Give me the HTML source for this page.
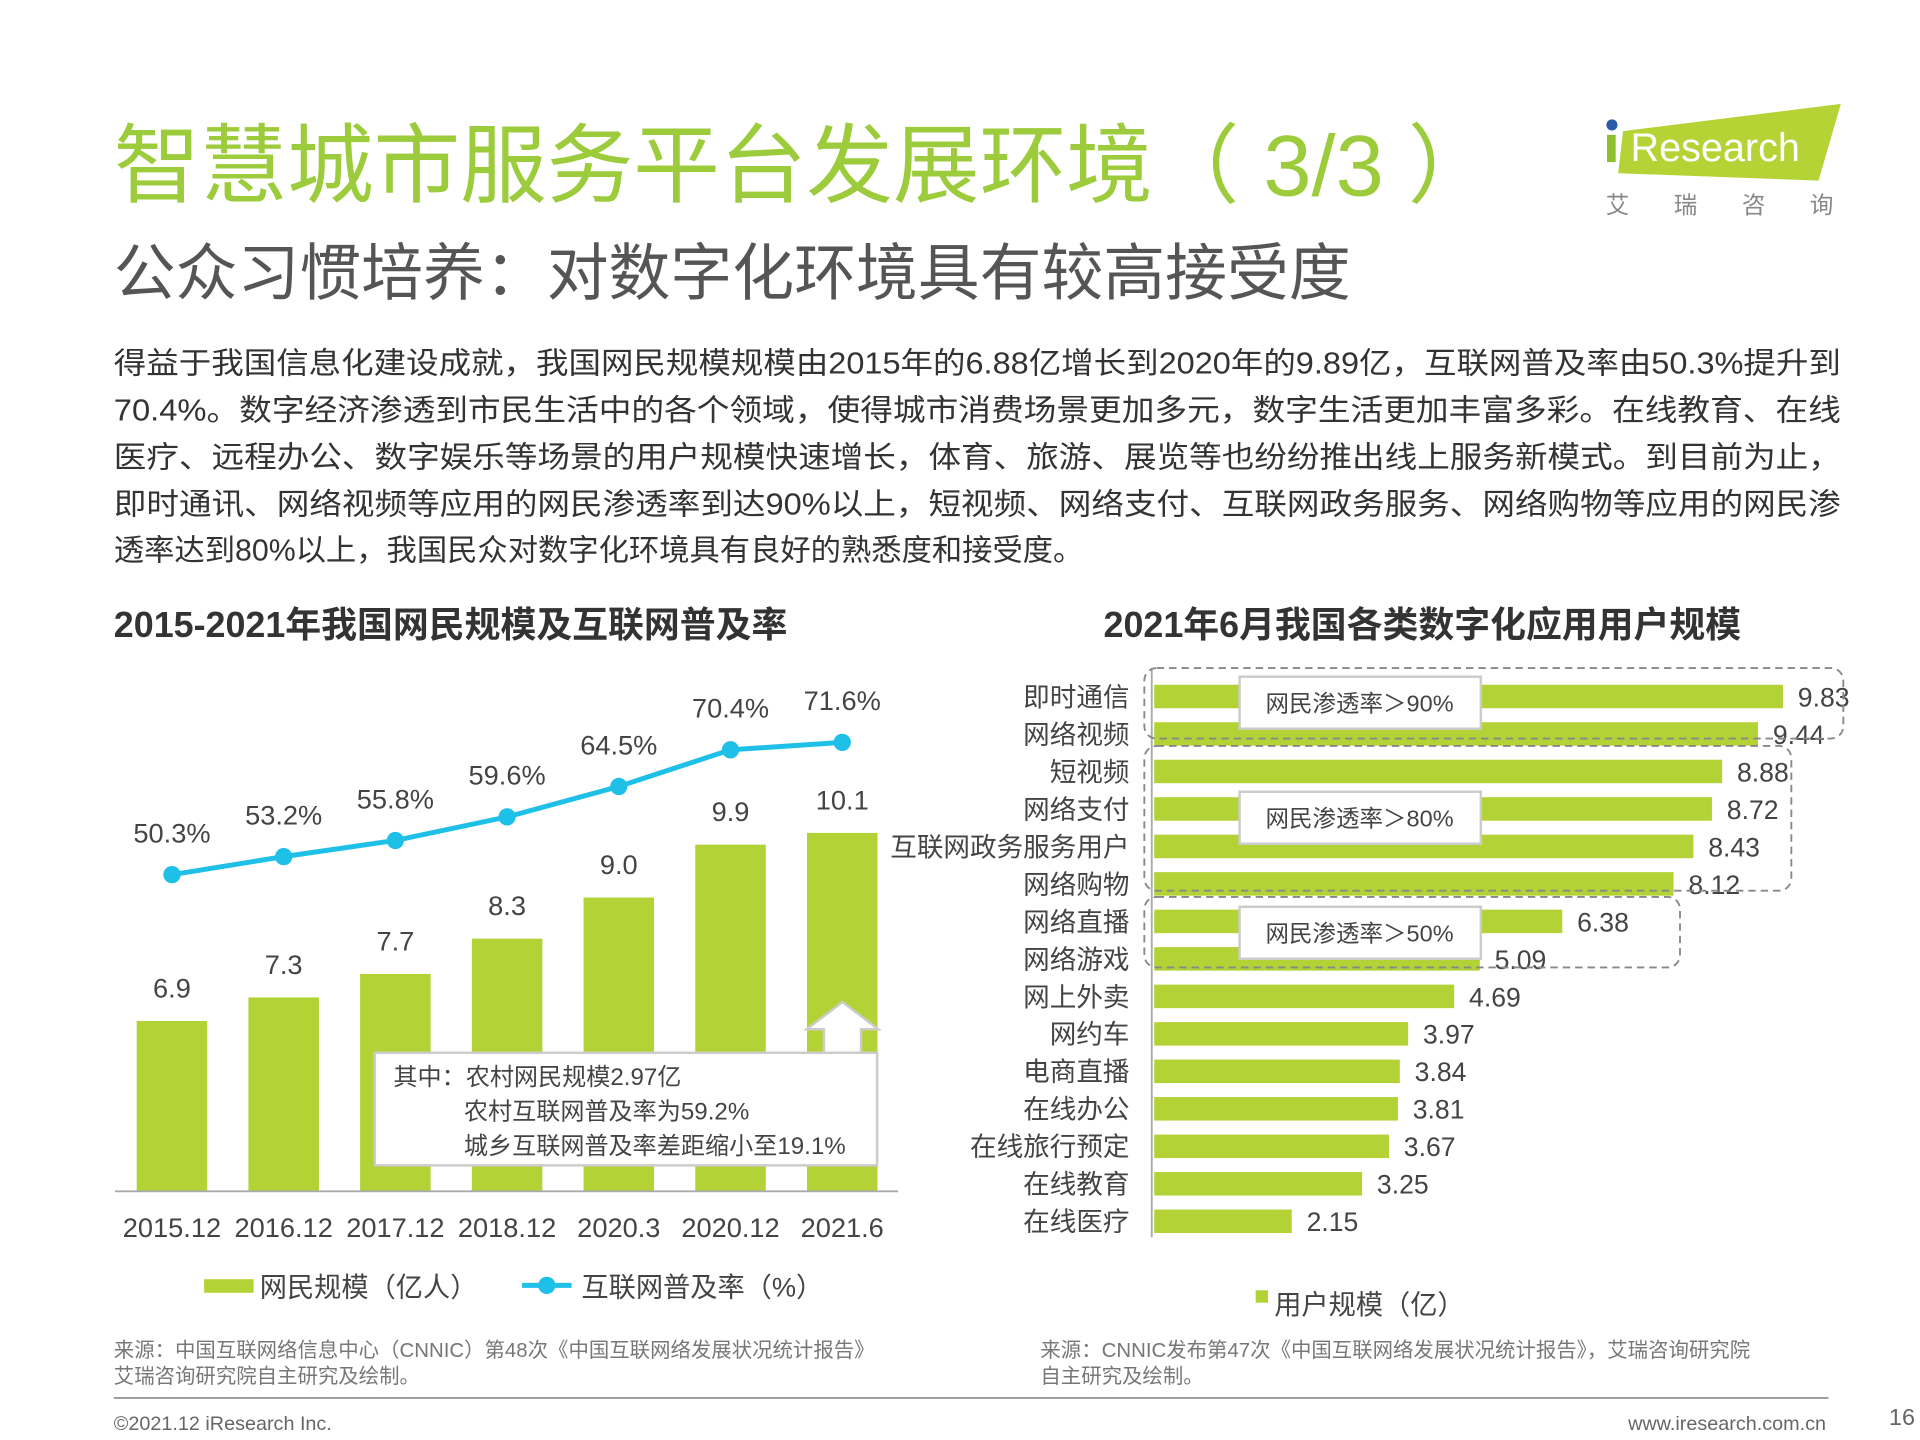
<!DOCTYPE html>
<html><head><meta charset="utf-8"><style>
html,body{margin:0;padding:0;background:#fff;}
svg{display:block;font-family:"Liberation Sans","Noto Sans CJK SC",sans-serif;}
</style></head><body>
<svg id="s" width="1920" height="1440" viewBox="0 0 1552 1164" xmlns="http://www.w3.org/2000/svg">
<text x="92" y="158" font-size="70" fill="#9ccb3b">智慧城市服务平台发展环境（ 3/3 ）</text>
<text x="92" y="238" font-size="50" fill="#555">公众习惯培养：对数字化环境具有较高接受度</text>
<g>
<polygon points="1312,106 1488,84 1470,146 1308,140" fill="#b5d334"/>
<rect x="1299" y="109" width="7" height="22" fill="#8dbf2f"/>
<circle cx="1303" cy="101" r="4.5" fill="#2a5caa"/>
<text x="1318" y="130" font-size="32" fill="#fff">Research</text>
<text x="1298" y="172" font-size="19" fill="#888" letter-spacing="36">艾瑞咨询</text>
</g>
<g font-size="24.5" fill="#333">
<text x="92" y="302" textLength="1396" lengthAdjust="spacingAndGlyphs">得益于我国信息化建设成就，我国网民规模规模由2015年的6.88亿增长到2020年的9.89亿，互联网普及率由50.3%提升到</text>
<text x="92" y="340" textLength="1396" lengthAdjust="spacingAndGlyphs">70.4%。数字经济渗透到市民生活中的各个领域，使得城市消费场景更加多元，数字生活更加丰富多彩。在线教育、在线</text>
<text x="92" y="378" textLength="1396" lengthAdjust="spacingAndGlyphs">医疗、远程办公、数字娱乐等场景的用户规模快速增长，体育、旅游、展览等也纷纷推出线上服务新模式。到目前为止，</text>
<text x="92" y="416" textLength="1396" lengthAdjust="spacingAndGlyphs">即时通讯、网络视频等应用的网民渗透率到达90%以上，短视频、网络支付、互联网政务服务、网络购物等应用的网民渗</text>
<text x="92" y="453">透率达到80%以上，我国民众对数字化环境具有良好的熟悉度和接受度。</text>
</g>
<text x="92" y="515" font-size="29" font-weight="bold" fill="#333">2015-2021年我国网民规模及互联网普及率</text>
<text x="892" y="515" font-size="29" font-weight="bold" fill="#333">2021年6月我国各类数字化应用用户规模</text>
<g id="left"></g>
<g id="right"></g>
<g font-size="16.5" fill="#777">
<text x="92" y="1097">来源：中国互联网络信息中心（CNNIC）第48次《中国互联网络发展状况统计报告》</text>
<text x="92" y="1118">艾瑞咨询研究院自主研究及绘制。</text>
<text x="841" y="1097">来源：CNNIC发布第47次《中国互联网络发展状况统计报告》，艾瑞咨询研究院</text>
<text x="841" y="1118">自主研究及绘制。</text>
</g>
<line x1="92" y1="1130" x2="1478" y2="1130" stroke="#999" stroke-width="1.5"/>
<text x="92" y="1156" font-size="16" fill="#666">©2021.12 iResearch Inc.</text>
<text x="1476" y="1156" font-size="16" fill="#666" text-anchor="end">www.iresearch.com.cn</text>
<text x="1548" y="1152" font-size="19" fill="#666" text-anchor="end">16</text>
</svg>
<script>
const years=["2015.12","2016.12","2017.12","2018.12","2020.3","2020.12","2021.6"];
const netizens=[6.9,7.3,7.7,8.3,9.0,9.9,10.1];
const netizenLabels=["6.9","7.3","7.7","8.3","9.0","9.9","10.1"];
const penetration=[50.3,53.2,55.8,59.6,64.5,70.4,71.6];
const apps=["即时通信","网络视频","短视频","网络支付","互联网政务服务用户","网络购物","网络直播","网络游戏","网上外卖","网约车","电商直播","在线办公","在线旅行预定","在线教育","在线医疗"];
const appUsers=[9.83,9.44,8.88,8.72,8.43,8.12,6.38,5.09,4.69,3.97,3.84,3.81,3.67,3.25,2.15];
const NS="http://www.w3.org/2000/svg";
function mk(p,tag,a,txt){const e=document.createElementNS(NS,tag);for(const k in a)e.setAttribute(k,a[k]);if(txt!==undefined)e.textContent=txt;p.appendChild(e);return e;}
const GREEN="#b3d235",BLUE="#1fc0e8";
// left chart
const L=document.getElementById('left');
const base=963;
const xC=i=>139+i*90.3;
const yBar=v=>base-47.5*(v-4);
const yLine=v=>707-5.02*(v-50.3);
years.forEach((y,i)=>{
 const b=mk(L,'rect',{x:xC(i)-28.5,y:yBar(netizens[i]),width:57,height:base-yBar(netizens[i]),fill:GREEN});
 
 
 const t=mk(L,'text',{x:xC(i),y:yBar(netizens[i])-19,'font-size':22,fill:'#444','text-anchor':'middle'},netizenLabels[i]);
 
 
 const xl=mk(L,'text',{x:xC(i),y:1000,'font-size':22,fill:'#444','text-anchor':'middle'},y);
 
 
});
const ax=mk(L,'line',{x1:93,y1:base,x2:726,y2:base,stroke:'#aaa','stroke-width':1.5});


const pl=mk(L,'polyline',{points:penetration.map((v,i)=>xC(i)+','+yLine(v)).join(' '),fill:'none',stroke:BLUE,'stroke-width':4});


penetration.forEach((v,i)=>{
 const c=mk(L,'circle',{cx:xC(i),cy:yLine(v),r:7,fill:BLUE});
 
 
 const t=mk(L,'text',{x:xC(i),y:yLine(v)-26,'font-size':22,fill:'#444','text-anchor':'middle'},v.toFixed(1)+'%');
 
 
});
const arrow=mk(L,'polygon',{points:'666,851 666,832 652,832 681,810 710,832 696,832 696,851',fill:'#fff',stroke:'#ccc','stroke-width':2});


const box=mk(L,'rect',{x:303,y:851,width:406,height:91,fill:'#fff',stroke:'#ccc','stroke-width':2});


[['其中：农村网民规模2.97亿',318,877],['农村互联网普及率为59.2%',375,905],['城乡互联网普及率差距缩小至19.1%',375,933]].forEach(a=>{
 const t=mk(L,'text',{x:a[1],y:a[2],'font-size':19.5,fill:'#444'},a[0]);
 
 
});
const lg1=mk(L,'rect',{x:165,y:1034,width:40,height:11,fill:GREEN});


const lt1=mk(L,'text',{x:210,y:1048,'font-size':22,fill:'#444'},'网民规模（亿人）');


const lg2=mk(L,'line',{x1:422,y1:1039,x2:462,y2:1039,stroke:BLUE,'stroke-width':4});


mk(L,'circle',{cx:442,cy:1039,r:7,fill:BLUE});
const lt2=mk(L,'text',{x:470,y:1048,'font-size':22,fill:'#444'},'互联网普及率（%）');


// right chart
const R=document.getElementById('right');
const x0=933,k=51.7;
const yR=i=>563+i*30.3;
const axR=mk(R,'line',{x1:931,y1:540,x2:931,y2:1000,stroke:'#aaa','stroke-width':1.5});


apps.forEach((a,i)=>{
 const b=mk(R,'rect',{x:x0,y:yR(i)-9.5,width:appUsers[i]*k,height:19,fill:GREEN});
 
 
 const t=mk(R,'text',{x:913,y:yR(i)+8,'font-size':21.5,fill:'#444','text-anchor':'end'},a);
 
 
 const v=mk(R,'text',{x:x0+appUsers[i]*k+12,y:yR(i)+8,'font-size':21.5,fill:'#444'},appUsers[i].toFixed(2));
 
 
});
[[925,540,565,57,'网民渗透率＞90%',547],[925,603,523,117,'网民渗透率＞80%',640],[925,725,433,57,'网民渗透率＞50%',733]].forEach(g=>{
 const d=mk(R,'rect',{x:g[0],y:g[1],width:g[2],height:g[3],rx:10,fill:'none',stroke:'#888','stroke-width':1.5,'stroke-dasharray':'6,4'});
 
 
 const b=mk(R,'rect',{x:1002,y:g[5],width:195,height:42,fill:'#fff',stroke:'#ccc','stroke-width':2});
 
 
 const t=mk(R,'text',{x:1099,y:g[5]+28,'font-size':19,fill:'#444','text-anchor':'middle'},g[4]);
 
 
});
const rl=mk(R,'rect',{x:1015,y:1043,width:10,height:10,fill:GREEN});


const rlt=mk(R,'text',{x:1030,y:1062,'font-size':22,fill:'#444'},'用户规模（亿）');


</script>
</body></html>
